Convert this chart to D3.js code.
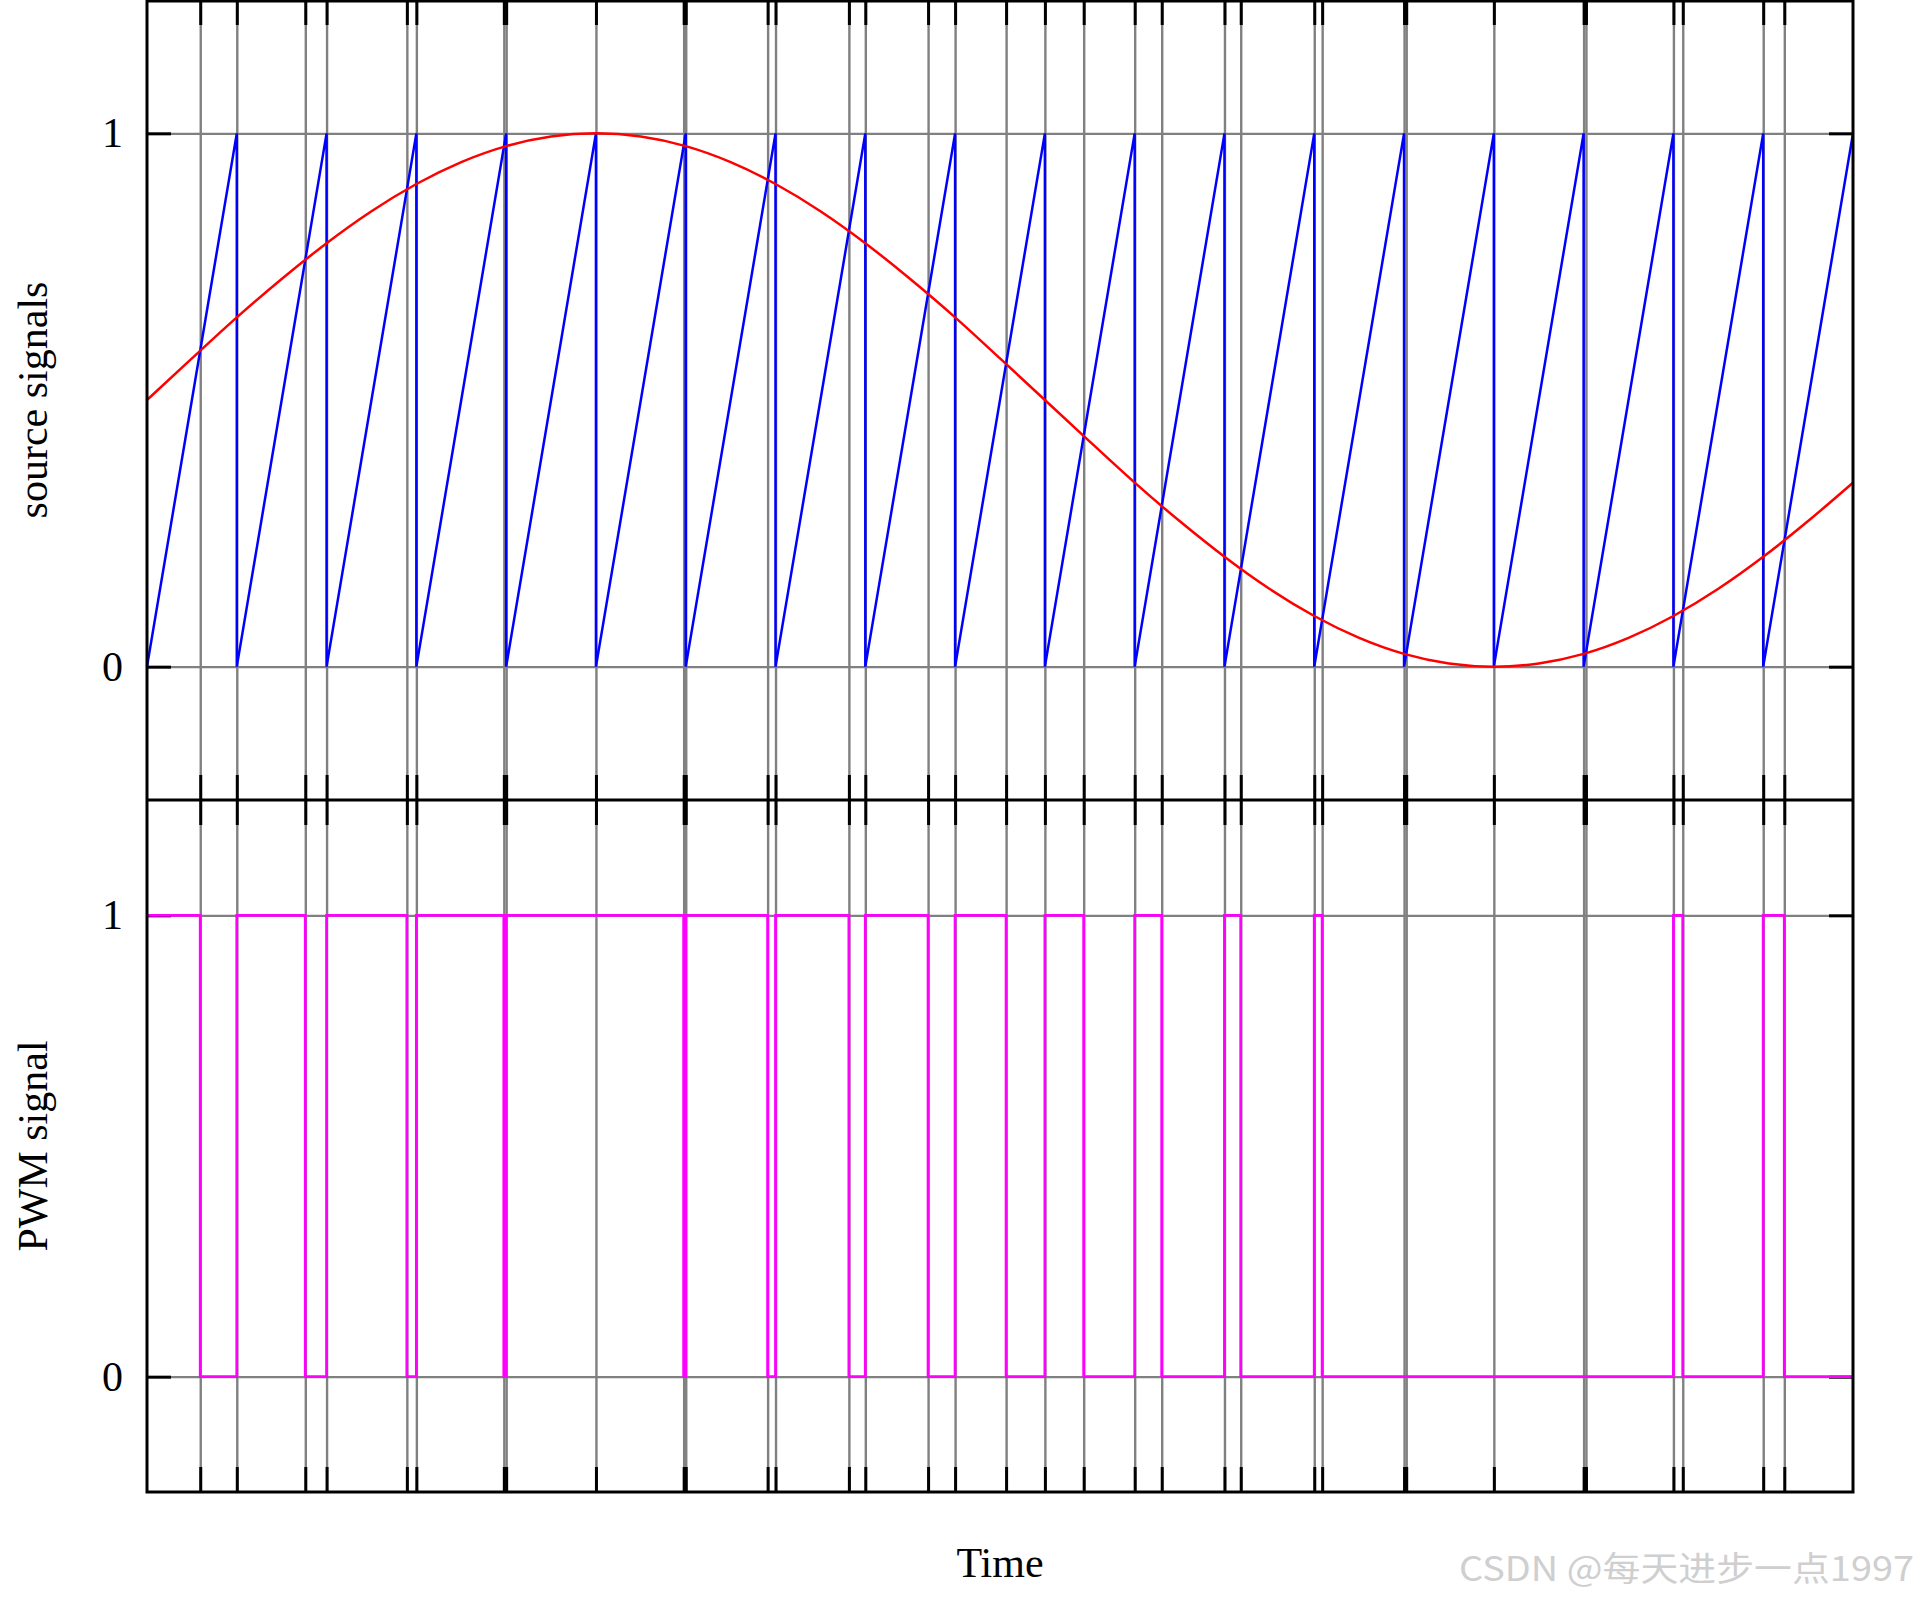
<!DOCTYPE html>
<html>
<head>
<meta charset="utf-8">
<script src="https://cdn.jsdelivr.net/npm/d3@7"></script>
<style>
  html, body { margin: 0; padding: 0; background: #fff; }
  svg { display: block; }
</style>
</head>
<body>
<svg id="chart" width="1920" height="1600"></svg>
<script>
// ---------------- data (time in sawtooth periods) ----------------
const timeDomain = [0, 19];
const yDomain = [-0.25, 1.25];
const yTickValues = [0, 1];
const yTickLabels = ["0", "1"];

// carrier (sawtooth) reset instants; ramps 0 -> 1 between them
const sawResetTimes = [1, 2, 3, 4, 5, 6, 7, 8, 9, 10, 11, 12, 13, 14, 15, 16, 17, 18, 19];
const sawLevels = [0, 1];

// reference (sine) samples
const sineTimes = [0, 0.5, 1, 1.5, 2, 2.5, 3, 3.5, 4, 4.5, 5, 5.5, 6, 6.5, 7, 7.5, 8, 8.5, 9, 9.5,
                   10, 10.5, 11, 11.5, 12, 12.5, 13, 13.5, 14, 14.5, 15, 15.5, 16, 16.5, 17, 17.5, 18, 18.5, 19];
const sineValues = [0.500, 0.578, 0.655, 0.727, 0.794, 0.854, 0.905, 0.946, 0.976, 0.994, 1.000, 0.994,
                    0.976, 0.946, 0.905, 0.854, 0.794, 0.727, 0.655, 0.578, 0.500, 0.422, 0.345, 0.273,
                    0.206, 0.146, 0.095, 0.054, 0.024, 0.006, 0.000, 0.006, 0.024, 0.054, 0.095, 0.146,
                    0.206, 0.273, 0.345];

// PWM signal: switching instants and the level after each switch
const pwmTimes = [0, 0.593, 1, 1.763, 2, 2.894, 3, 3.974, 4, 5.977, 6, 6.912, 7, 7.817, 8, 8.699, 9,
                  9.568, 10, 10.432, 11, 11.301, 12, 12.181, 13, 13.088, 17, 17.104, 18, 18.235, 19];
const pwmLevels = [1, 0, 1, 0, 1, 0, 1, 0, 1, 0, 1, 0, 1, 0, 1, 0, 1,
                   0, 1, 0, 1, 0, 1, 0, 1, 0, 1, 0, 1, 0, 0];

// x tick / grid positions (crossings and resets)
const xTickValues = [0.593, 1, 1.763, 2, 2.894, 3, 3.974, 4, 5, 5.977, 6, 6.912, 7, 7.817, 8, 8.699, 9,
                     9.568, 10, 10.432, 11, 11.301, 12, 12.181, 13, 13.088, 14, 14.024, 15, 16, 16.026,
                     17, 17.104, 18, 18.235];

const topTitle = "source signals";
const bottomTitle = "PWM signal";
const xTitle = "Time";
const watermark = "CSDN @每天进步一点1997";

// ---------------- layout ----------------
const L = 147, R = 1853;
const topPanel = { top: 0, bottom: 800 };
const botPanel = { top: 800, bottom: 1492 };
const serif = "'Liberation Serif', 'Times New Roman', serif";

const svg = d3.select("#chart");
const x = d3.scaleLinear().domain(timeDomain).range([L, R]);
const yTop = d3.scaleLinear().domain(yDomain).range([topPanel.bottom, topPanel.top]);
const yBot = d3.scaleLinear().domain(yDomain).range([botPanel.bottom, botPanel.top]);

function styleGrid(g) {
  g.select(".domain").remove();
  g.selectAll("line").attr("stroke", "#808080").attr("stroke-width", 2.4);
  g.selectAll("text").remove();
}
function styleTicks(g) {
  g.select(".domain").remove();
  g.selectAll("line").attr("stroke", "#000").attr("stroke-width", 3);
}

const panels = [[topPanel, yTop], [botPanel, yBot]];

// grid
panels.forEach(([p, y]) => {
  svg.append("g").attr("transform", `translate(0,${p.bottom})`)
    .call(d3.axisBottom(x).tickValues(xTickValues).tickSize(-(p.bottom - p.top)).tickFormat(""))
    .call(styleGrid);
  svg.append("g").attr("transform", `translate(${L},0)`)
    .call(d3.axisLeft(y).tickValues(yTickValues).tickSize(-(R - L)).tickFormat(""))
    .call(styleGrid);
});

// black ticks
panels.forEach(([p, y]) => {
  svg.append("g").attr("transform", `translate(0,${p.bottom})`)
    .call(d3.axisBottom(x).tickValues(xTickValues).tickSize(-25).tickFormat(""))
    .call(styleTicks);
  svg.append("g").attr("transform", `translate(0,${p.top})`)
    .call(d3.axisTop(x).tickValues(xTickValues).tickSize(-25).tickFormat(""))
    .call(styleTicks);
  const left = svg.append("g").attr("transform", `translate(${L},0)`)
    .call(d3.axisLeft(y).tickValues(yTickValues).tickSize(-24).tickPadding(24)
      .tickFormat(d => yTickLabels[yTickValues.indexOf(d)]))
    .call(styleTicks);
  left.selectAll("text").attr("font-family", serif).attr("font-size", 42).attr("fill", "#000");
  svg.append("g").attr("transform", `translate(${R},0)`)
    .call(d3.axisRight(y).tickValues(yTickValues).tickSize(-24).tickFormat(""))
    .call(styleTicks);
});

// sawtooth
const sawPoints = [[timeDomain[0], sawLevels[0]]];
sawResetTimes.forEach((t, i) => {
  sawPoints.push([t, sawLevels[1]]);
  if (i < sawResetTimes.length - 1) sawPoints.push([t, sawLevels[0]]);
});
svg.append("path")
  .attr("d", d3.line().x(d => x(d[0])).y(d => yTop(d[1]))(sawPoints))
  .attr("fill", "none").attr("stroke", "#0000ff").attr("stroke-width", 2.5);

// sine
svg.append("path")
  .attr("d", d3.line().x((d, i) => x(sineTimes[i])).y(d => yTop(d)).curve(d3.curveNatural)(sineValues))
  .attr("fill", "none").attr("stroke", "#ff0000").attr("stroke-width", 2.5);

// PWM
const pwmPoints = pwmTimes.map((t, i) => [t, pwmLevels[i]]);
svg.append("path")
  .attr("d", d3.line().x(d => x(d[0])).y(d => yBot(d[1])).curve(d3.curveStepAfter)(pwmPoints))
  .attr("fill", "none").attr("stroke", "#ff00ff").attr("stroke-width", 2.8);

// frame
svg.append("rect").attr("x", L).attr("y", 1).attr("width", R - L).attr("height", botPanel.bottom - 1)
  .attr("fill", "none").attr("stroke", "#000").attr("stroke-width", 3);
svg.append("line").attr("x1", L).attr("x2", R).attr("y1", topPanel.bottom).attr("y2", topPanel.bottom)
  .attr("stroke", "#000").attr("stroke-width", 3);

// titles
svg.append("text").attr("transform", `translate(47,${(topPanel.top + topPanel.bottom) / 2}) rotate(-90)`)
  .attr("text-anchor", "middle").attr("font-family", serif).attr("font-size", 42).text(topTitle);
svg.append("text").attr("transform", `translate(47,${(botPanel.top + botPanel.bottom) / 2}) rotate(-90)`)
  .attr("text-anchor", "middle").attr("font-family", serif).attr("font-size", 42).text(bottomTitle);
svg.append("text").attr("x", (L + R) / 2).attr("y", 1577)
  .attr("text-anchor", "middle").attr("font-family", serif).attr("font-size", 42).text(xTitle);

// watermark
svg.append("text").attr("x", 1914).attr("y", 1581).attr("text-anchor", "end")
  .attr("font-family", "'Noto Sans CJK SC', 'Noto Sans', sans-serif").attr("font-size", 34)
  .attr("fill", "#cfcfcf").attr("textLength", 455).attr("lengthAdjust", "spacingAndGlyphs")
  .text(watermark);
</script>
</body>
</html>
